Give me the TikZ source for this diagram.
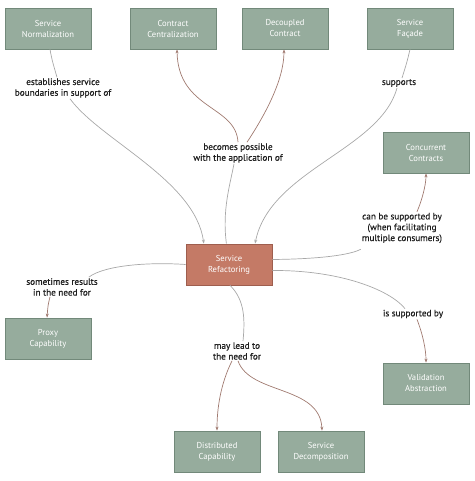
\documentclass[tikz,border=0pt]{standalone}
\usepackage{fontspec}
\setmainfont{PT Sans}
\newfontfamily\lblfont[FakeBold=0.6]{PT Sans}
\usetikzlibrary{calc,arrows.meta,shadows}
\definecolor{boxfill}{HTML}{96AC9D}
\definecolor{boxdraw}{HTML}{72897A}
\definecolor{reffill}{HTML}{C47A66}
\definecolor{refdraw}{HTML}{9E5E4E}
\definecolor{lngray}{HTML}{A8A8A8}
\definecolor{lnbrown}{HTML}{A07A70}
\definecolor{lbltext}{HTML}{1E1E1E}
\tikzset{
  pbox/.style={rectangle, fill=boxfill, draw=boxdraw, line width=0.8pt,
    minimum width=86pt, minimum height=41pt, inner sep=1pt, align=center,
    text=white, font=\fontsize{8.6}{11}\selectfont,
    drop shadow={shadow xshift=0.8pt, shadow yshift=-0.8pt, fill=black!45, opacity=0.6}},
  rbox/.style={pbox, fill=reffill, draw=refdraw},
  lbl/.style={align=center, inner sep=1pt, text=lbltext,
    font=\lblfont\fontsize{9.2}{10.8}\selectfont},
  inline/.style={draw=lngray, line width=0.7pt},
  inarrow/.style={inline, -{Stealth[length=4pt,width=3pt]}},
  outline/.style={draw=lnbrown, line width=0.7pt, -{Stealth[length=4pt,width=3pt]}},
}
\begin{document}
\begin{tikzpicture}[x=1pt,y=-1pt]
\useasboundingbox (0,0) rectangle (474,481);
% boxes
\node[pbox] (norm) at (48,28.5) {Service\\Normalization};
\node[pbox] (cent) at (173,28.5) {Contract\\Centralization};
\node[pbox] (deco) at (285,28.5) {Decoupled\\Contract};
\node[pbox] (faca) at (410,28.5) {Service\\Façade};
\node[pbox] (conc) at (426,152.5) {Concurrent\\Contracts};
\node[rbox] (refa) at (229,264.5) {Service\\Refactoring};
\node[pbox] (prox) at (48,338.5) {Proxy\\Capability};
\node[pbox] (vali) at (426,383.5) {Validation\\Abstraction};
\node[pbox] (dist) at (217,451.5) {Distributed\\Capability};
\node[pbox] (dcmp) at (321,451.5) {Service\\Decomposition};
% labels
\node[lbl] (lA) at (63,88) {establishes service\\boundaries in support of};
\node[lbl] (lB) at (238,153) {becomes possible\\with the application of};
\node[lbl] (lC) at (399,83) {supports};
\node[lbl] (lD) at (402,228) {can be supported by\\(when facilitating\\multiple consumers)};
\node[lbl] (lE) at (62,287) {sometimes results\\in the need for};
\node[lbl] (lF) at (413,314) {is supported by};
\node[lbl] (lG) at (237,351) {may lead to\\the need for};
% Normalization -> Refactoring
\draw[inline] ([xshift=2pt]norm.south) .. controls (52,60) .. ([xshift=-6pt]lA.north);
\draw[inarrow] ([xshift=7pt]lA.south) .. controls (100,140) and (195,180) .. ($(refa.north west)!0.21!(refa.north east)$);
% Facade -> Refactoring
\draw[inline] (faca.south) .. controls (407,62) .. ([xshift=3pt]lC.north);
\draw[inarrow] ([xshift=-2pt]lC.south) .. controls (380,150) and (270,170) .. ($(refa.north west)!0.8!(refa.north east)$);
% Refactoring -> Contract Centralization / Decoupled Contract
\draw[inline] ($(refa.north west)!0.47!(refa.north east)$) .. controls (222,210) and (230,185) .. ([xshift=-4pt]lB.south);
\draw[outline] (lB.north) .. controls (236,105) and (178,110) .. ([xshift=4pt]cent.south);
\draw[outline] ([xshift=9pt]lB.north) .. controls (265,115) and (284,80) .. ([xshift=-1pt]deco.south);
% Refactoring -> Concurrent Contracts
\draw[inline] ([yshift=5pt]refa.east) .. controls (320,259) and (350,255) .. ([yshift=-5pt]lD.south west);
\draw[outline] ([xshift=15pt]lD.north) .. controls (422,200) and (426,185) .. (conc.south);
% Refactoring -> Proxy Capability
\draw[inline] (refa.west) .. controls (150,262) and (105,265) .. ([xshift=-10pt]lE.north east);
\draw[outline] ([xshift=-12pt]lE.south) .. controls (48,305) .. ([xshift=-1pt]prox.north);
% Refactoring -> Validation Abstraction
\draw[inline] ([yshift=-6pt]refa.east) .. controls (340,270) and (390,290) .. ([xshift=-8pt]lF.north);
\draw[outline] ([xshift=4pt]lF.south) .. controls (423,335) and (426,350) .. (vali.north);
% Refactoring -> Distributed / Decomposition
\draw[inline] ([xshift=1pt]refa.south) .. controls (245,300) and (245,320) .. ([xshift=6pt]lG.north);
\draw[outline] ([xshift=-5pt]lG.south) .. controls (220,385) and (217,410) .. (dist.north);
\draw[outline] ([xshift=1pt]lG.south) .. controls (250,395) and (320,385) .. ([xshift=1pt]dcmp.north);
\end{tikzpicture}
\end{document}
